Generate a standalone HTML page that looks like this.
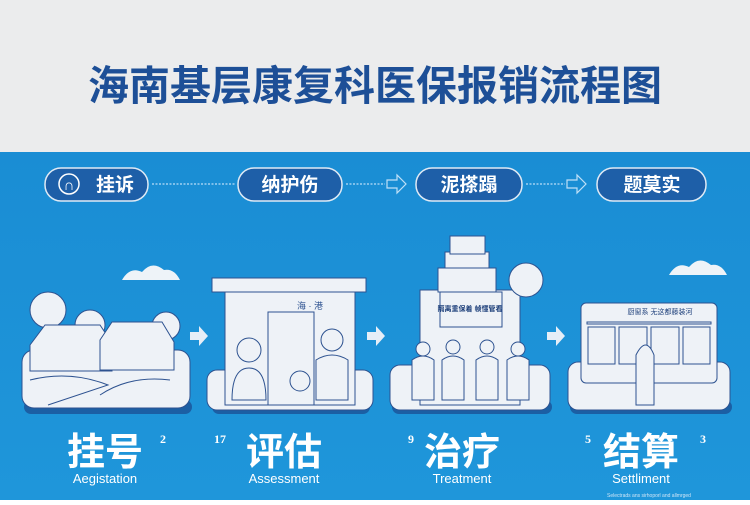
<!DOCTYPE html>
<html><head><meta charset="utf-8"><style>
body{margin:0;width:750px;height:500px;overflow:hidden;font-family:"Liberation Sans","Noto Sans CJK SC",sans-serif;}
</style></head><body>
<svg width="750" height="500" viewBox="0 0 750 500" xmlns="http://www.w3.org/2000/svg" font-family="Liberation Sans, Noto Sans CJK SC, sans-serif">
<defs>
<linearGradient id="bg" x1="0" y1="0" x2="0" y2="1"><stop offset="0" stop-color="#1a8dd4"/><stop offset="1" stop-color="#1f96da"/></linearGradient>
</defs>
<rect width="750" height="152" fill="#ebeced"/>
<rect y="152" width="750" height="348" fill="url(#bg)"/>
<text x="375" y="100" text-anchor="middle" font-size="41" font-weight="bold" fill="#1d4f97" font-family="Noto Sans CJK SC, sans-serif">海南基层康复科医保报销流程图</text>

<!-- pills -->
<g stroke="#dfeaf5" stroke-width="1.5" fill="#1e5fa8">
<rect x="45" y="168" width="103" height="33" rx="16"/>
<rect x="238" y="168" width="104" height="33" rx="16"/>
<rect x="416" y="168" width="106" height="33" rx="16"/>
<rect x="597" y="168" width="109" height="33" rx="16"/>
</g>
<circle cx="69" cy="184" r="10" fill="none" stroke="#fff" stroke-width="1.5"/>
<text x="69" y="190" text-anchor="middle" font-size="15" font-weight="bold" fill="#fff">∩</text>
<g fill="#fff" font-size="19" font-weight="bold" text-anchor="middle" font-family="Noto Sans CJK SC, sans-serif">
<text x="115" y="191">挂诉</text>
<text x="290" y="191">纳护伤</text>
<text x="469" y="191">泥搽蹋</text>
<text x="652" y="191">题莫实</text>
</g>
<g stroke="#9fd0f2" stroke-width="1.5" stroke-dasharray="2 1.5" fill="none">
<line x1="152" y1="184" x2="235" y2="184"/>
<line x1="346" y1="184" x2="385" y2="184"/>
<line x1="526" y1="184" x2="565" y2="184"/>
</g>
<g fill="none" stroke="#bfe0f7" stroke-width="1.2">
<path d="M387 180h10v-5l9 9-9 9v-5h-10z"/>
<path d="M567 180h10v-5l9 9-9 9v-5h-10z"/>
</g>

<!-- clouds -->
<g fill="#eef3f8">
<path d="M122 280 q8 -14 20 -8 q10 -12 22 -2 q10 -2 16 10 z"/>
<path d="M669 275 q8 -14 20 -8 q10 -12 22 -2 q10 -2 16 10 z"/>
</g>

<!-- shadows -->
<g fill="#1b5fa4">
<rect x="24" y="400" width="168" height="14" rx="7"/>
<rect x="212" y="400" width="158" height="14" rx="7"/>
<rect x="392" y="400" width="160" height="14" rx="7"/>
<rect x="570" y="400" width="162" height="14" rx="7"/>
</g>

<g fill="#eef2f7" stroke="#2d5290" stroke-width="1">
<!-- panel 1 -->
<rect x="22" y="350" width="168" height="58" rx="12"/>
<circle cx="48" cy="310" r="18"/><circle cx="90" cy="325" r="15"/><circle cx="166" cy="326" r="14"/>
<path d="M30 345 l15 -20 h55 l12 18 v28 h-82z"/>
<path d="M100 340 l12 -18 h50 l12 20 v28 h-74z"/>
<path d="M30 380 q40 -10 78 5 q-30 10 -60 20" fill="none"/>
<path d="M100 395 q30 -20 70 -15" fill="none"/>
<!-- panel 2 -->
<rect x="207" y="370" width="166" height="40" rx="10"/>
<rect x="225" y="290" width="130" height="115"/>
<rect x="212" y="278" width="154" height="14"/>
<rect x="268" y="312" width="46" height="93"/>
<circle cx="249" cy="350" r="12"/>
<path d="M232 400 q0 -32 17 -32 q17 0 17 32z"/>
<circle cx="332" cy="340" r="11"/>
<path d="M316 400 v-40 q16 -10 32 0 v40z"/>
<circle cx="300" cy="381" r="10"/>
<!-- panel 3 -->
<rect x="390" y="365" width="160" height="45" rx="10"/>
<rect x="420" y="290" width="100" height="115"/>
<rect x="438" y="268" width="58" height="24"/>
<rect x="445" y="252" width="44" height="16"/>
<rect x="450" y="236" width="35" height="18"/>
<circle cx="526" cy="280" r="17"/>
<rect x="440" y="292" width="62" height="35"/>
<g>
<circle cx="423" cy="349" r="7"/><path d="M412 400 v-40 q11 -8 22 0 v40z"/>
<circle cx="453" cy="347" r="7"/><path d="M442 400 v-40 q11 -8 22 0 v40z"/>
<circle cx="487" cy="347" r="7"/><path d="M476 400 v-40 q11 -8 22 0 v40z"/>
<circle cx="518" cy="349" r="7"/><path d="M507 400 v-40 q11 -8 22 0 v40z"/>
</g>
<!-- panel 4 -->
<rect x="568" y="362" width="162" height="48" rx="10"/>
<rect x="581" y="303" width="136" height="80" rx="5"/>
<rect x="587" y="322" width="124" height="2"/>
<rect x="588" y="327" width="27" height="37"/><rect x="619" y="327" width="28" height="37"/>
<rect x="651" y="327" width="28" height="37"/><rect x="683" y="327" width="27" height="37"/>
<path d="M636 405 v-50 q10 -20 18 0 v50z"/>
</g>
<text x="310" y="309" font-size="9" fill="#2d5290" text-anchor="middle">海 · 港</text>
<text x="470" y="311" font-size="7" fill="#1d3f7a" text-anchor="middle" font-weight="bold">隔离重保着 帧懂管看</text>
<text x="660" y="314" font-size="7" fill="#1d3f7a" text-anchor="middle">厨窗系 无这都藤装河</text>

<!-- arrows between panels -->
<g fill="#e6eef7">
<path d="M190 332h9v-6l9 10-9 10v-6h-9z"/>
<path d="M367 332h9v-6l9 10-9 10v-6h-9z"/>
<path d="M547 332h9v-6l9 10-9 10v-6h-9z"/>
</g>

<!-- labels -->
<g fill="#fff" font-weight="bold" font-size="38" font-family="Noto Sans CJK SC, sans-serif" text-anchor="middle">
<text x="105" y="465">挂号</text>
<text x="284" y="465">评估</text>
<text x="462" y="465">治疗</text>
<text x="641" y="465">结算</text>
</g>
<g fill="#fff" font-weight="bold" font-size="12" font-family="Liberation Serif, serif">
<text x="160" y="443">2</text>
<text x="214" y="443">17</text>
<text x="408" y="443">9</text>
<text x="585" y="443">5</text>
<text x="700" y="443">3</text>
</g>
<g fill="#fff" font-size="13" text-anchor="middle">
<text x="105" y="483">Aegistation</text>
<text x="284" y="483">Assessment</text>
<text x="462" y="483">Treatment</text>
<text x="641" y="483">Settliment</text>
</g>
<text x="649" y="497" font-size="5" fill="#cfe6f7" text-anchor="middle">Selectrads ans sirhoporl and allmrged</text>
</svg>
</body></html>
